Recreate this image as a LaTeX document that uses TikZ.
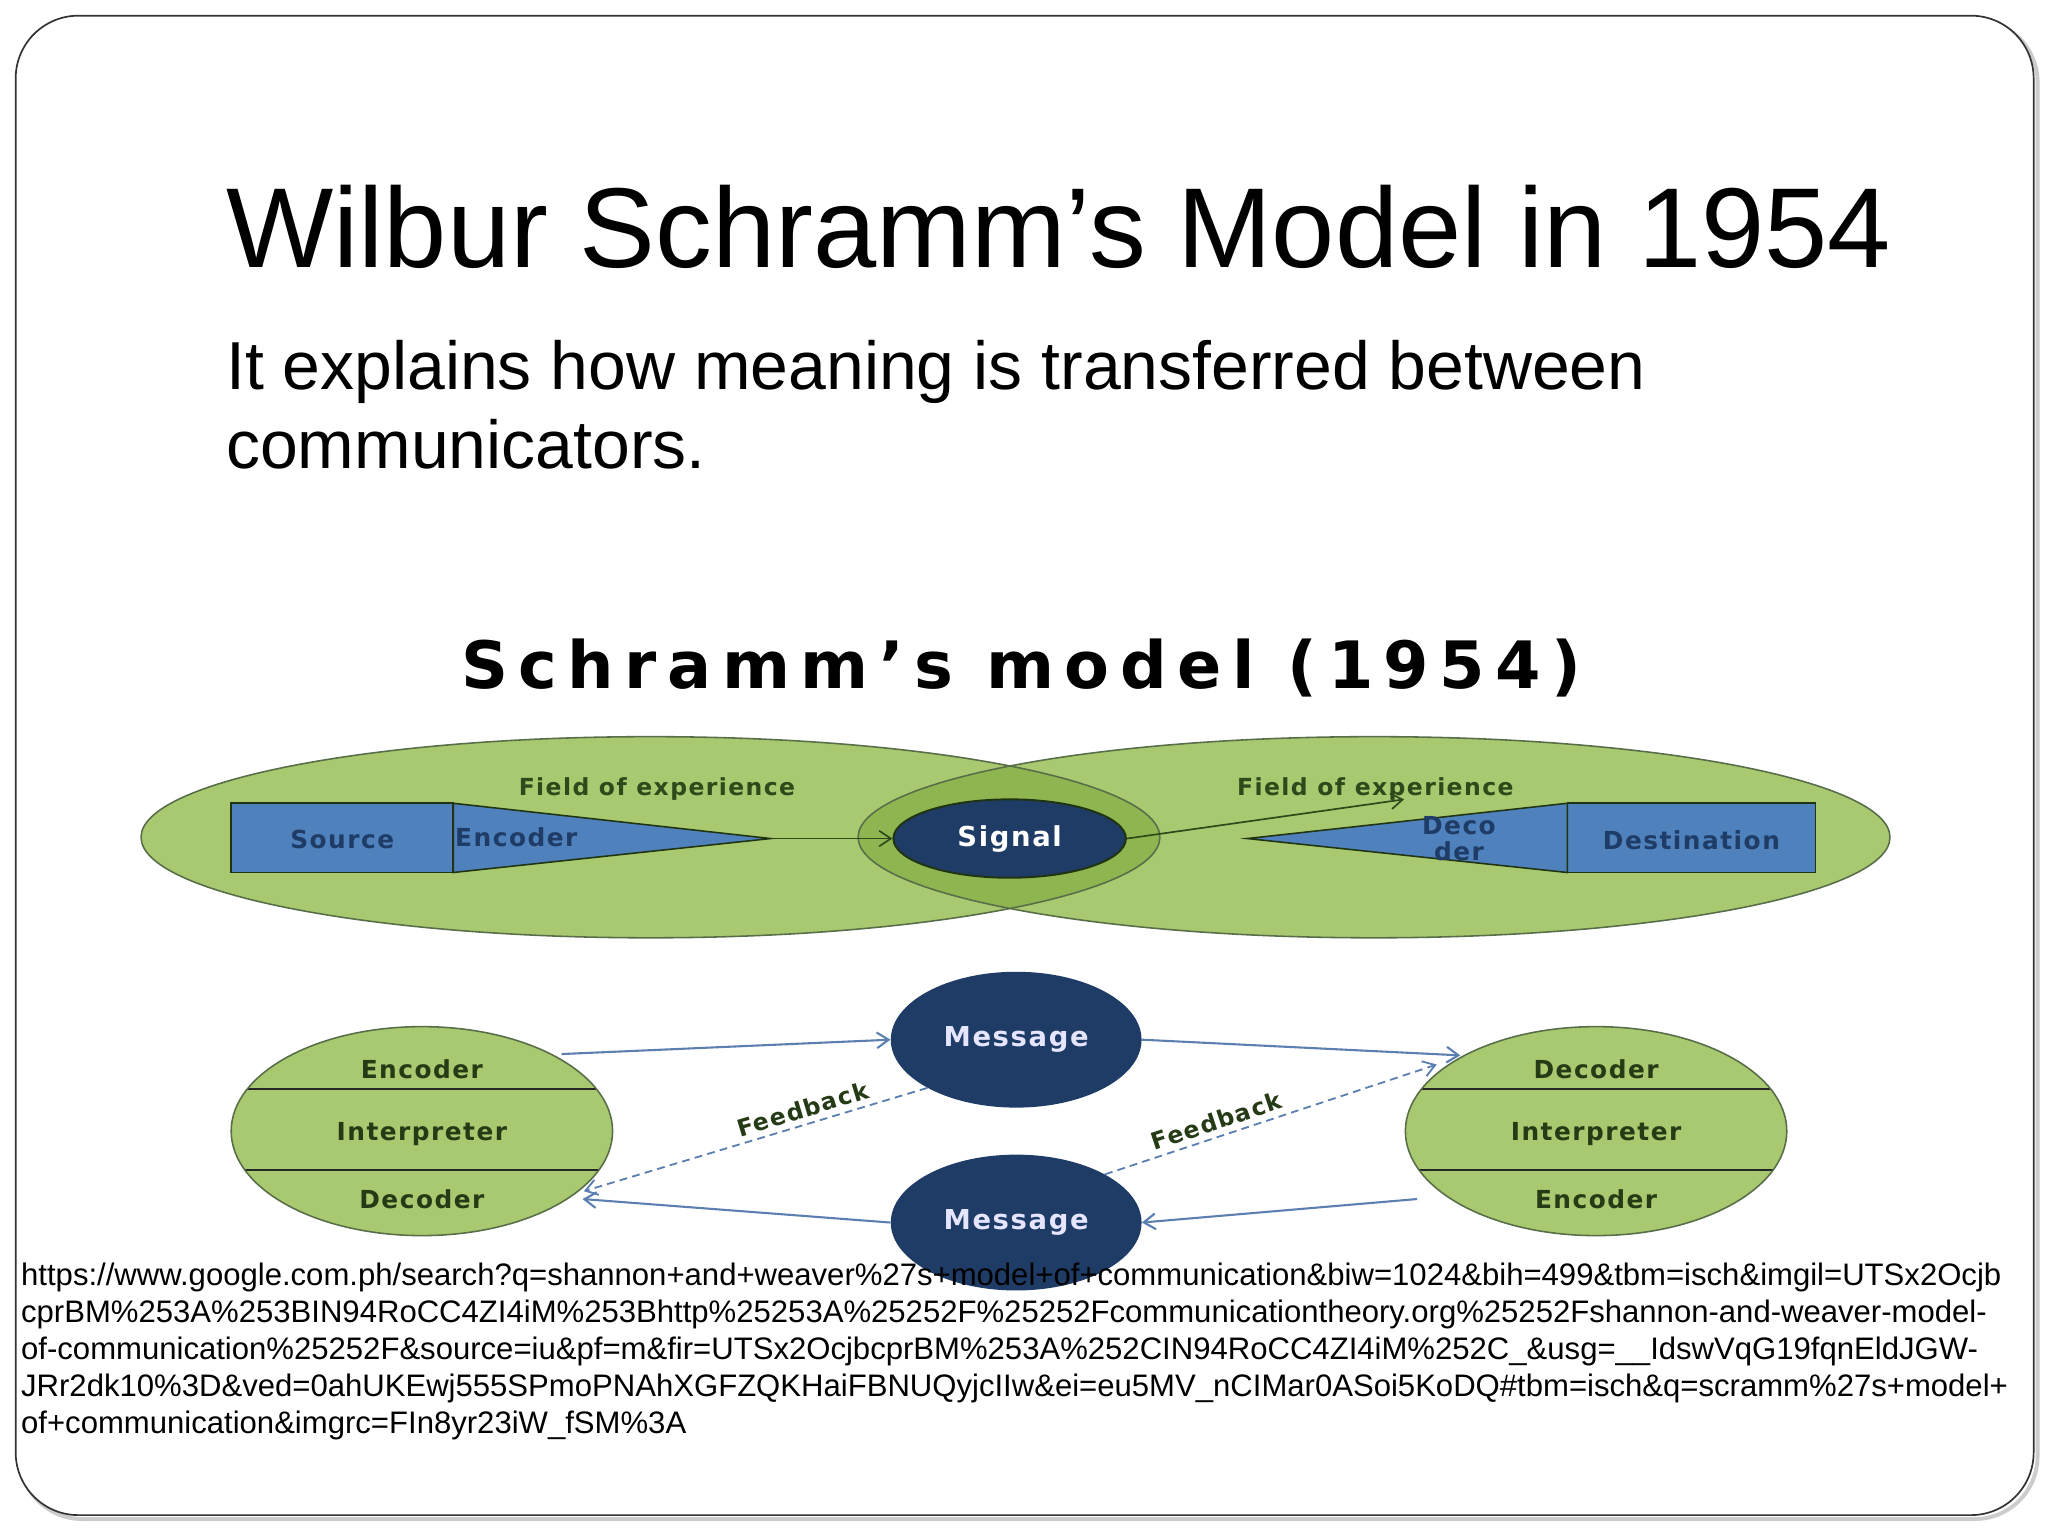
\documentclass[tikz,border=0pt]{standalone}
\usepackage{fontspec}
\setmainfont{Liberation Sans}
\newfontfamily\djfont{DejaVu Sans}
\newfontfamily\djspaced[LetterSpace=16]{DejaVu Sans}
\newfontfamily\djlab[LetterSpace=6]{DejaVu Sans}
\usetikzlibrary{arrows.meta,shapes.geometric}
\definecolor{fgreen}{HTML}{A9C970}
\definecolor{lgreen}{HTML}{8FB550}
\definecolor{dgreen}{HTML}{2F4A1A}
\definecolor{bbox}{HTML}{4F81BD}
\definecolor{navy}{HTML}{1F3C66}
\definecolor{steel}{HTML}{5B7FB0}
\tikzset{
  lab/.style={font=\djlab\fontsize{19}{21}\selectfont\bfseries, text=dgreen!80!black},
  fieldlab/.style={font=\djlab\fontsize{18}{20}\selectfont\bfseries, text=dgreen},
  msg/.style={ellipse, fill=navy, minimum width=192pt, minimum height=104pt, inner sep=0pt, text=white!90!blue, font=\djlab\fontsize{21}{23}\selectfont\bfseries},
  garrow/.style={draw=dgreen, line width=1.3pt, -{Straight Barb[length=9pt,width=12pt]}},
  barrow/.style={draw=steel, line width=1.6pt, -{Straight Barb[length=9pt,width=12pt]}},
  fb/.style={draw=steel, line width=1.4pt, dashed, dash pattern=on 6pt off 4pt, -{Straight Barb[length=9pt,width=12pt]}},
  bluebox/.style={fill=bbox, draw=dgreen!70!black, line width=1.2pt}
}
\begin{document}
\begin{tikzpicture}[x=1pt,y=-1pt]
\useasboundingbox (0,0) rectangle (1568,1176);
\fill[white] (0,0) rectangle (1568,1176);
% frame
\draw[line width=3pt, gray!40, rounded corners=48pt] (15,15) rectangle (1560,1163);
\draw[line width=1.3pt, black!80, rounded corners=48pt, fill=white] (12,12) rectangle (1557,1160);
% titles
\node[anchor=base west, inner sep=0pt, font=\fontsize{87}{90}\selectfont] (title) at (173,205) {Wilbur Schramm’s Model in 1954};
\node[anchor=north west, inner sep=0pt, font=\fontsize{52}{61}\selectfont, align=left] (sub) at (173,260) {It explains how meaning is transferred between\\communicators.};
\node[anchor=base, inner sep=0pt, font=\djspaced\fontsize{50}{54}\selectfont\bfseries] (mtitle) at (782,527) {Schramm’s model (1954)};
% ellipses
\fill[fgreen] (498,641) ellipse[x radius=390pt, y radius=77pt];
\fill[fgreen] (1052,641) ellipse[x radius=395pt, y radius=77pt];
\begin{scope}
\clip (498,641) ellipse[x radius=390pt, y radius=77pt];
\fill[lgreen] (1052,641) ellipse[x radius=395pt, y radius=77pt];
\end{scope}
\draw[dgreen!80, line width=1.2pt] (498,641) ellipse[x radius=390pt, y radius=77pt];
\draw[dgreen!80, line width=1.2pt] (1052,641) ellipse[x radius=395pt, y radius=77pt];
\node[fieldlab] (f1) at (503,604) {Field of experience};
\node[fieldlab] (f2) at (1053,604) {Field of experience};
% source / encoder
\draw[bluebox] (177,615) rectangle (347,668);
\node[lab, text=navy] (src) at (262,643) {Source};
\draw[bluebox] (347,615) -- (590,642) -- (347,668) -- cycle;
\node[lab, text=navy, anchor=west] (enc) at (345,641) {Encoder};
\coordinate (enctip) at (590,642);
% destination / decoder
\draw[bluebox] (1200,615) rectangle (1390,668);
\node[lab, text=navy] (dst) at (1295,643) {Destination};
\draw[bluebox] (1200,615) -- (955,642) -- (1200,668) -- cycle;
\node[lab, text=navy, align=center, font=\djlab\fontsize{19}{20}\selectfont\bfseries] (dec) at (1117,642) {Deco\\der};
% signal
\node[ellipse, fill=navy, draw=dgreen!70!black, line width=1.5pt, minimum width=178pt, minimum height=60pt, text=white, font=\djlab\fontsize{21}{23}\selectfont\bfseries] (sig) at (773,642) {Signal};
\draw[garrow] (enctip) -- (sig.west);
\coordinate (fe) at (1075,612);
\draw[garrow] (sig.east) -- (fe);
% bottom part
\foreach \cx/\a/\b/\c/\nm in {323/Encoder/Interpreter/Decoder/L,1222/Decoder/Interpreter/Encoder/R}{
  \fill[fgreen] (\cx,866) ellipse[x radius=146pt, y radius=80pt];
  \begin{scope}
  \clip (\cx,866) ellipse[x radius=146pt, y radius=80pt];
  \draw[black!85, line width=1.3pt] (\cx-150,834) -- (\cx+150,834);
  \draw[black!85, line width=1.3pt] (\cx-150,896) -- (\cx+150,896);
  \end{scope}
  \draw[dgreen!80, line width=1.2pt] (\cx,866) ellipse[x radius=146pt, y radius=80pt];
  \node[lab] (\nm a) at (\cx,819) {\a};
  \node[lab] (\nm b) at (\cx,868) {\b};
  \node[lab] (\nm c) at (\cx,918) {\c};
}
\coordinate (Lout) at (430,807);
\coordinate (Lin) at (446,918);
\coordinate (Lfb) at (447,912);
\coordinate (Rin) at (1118,808);
\coordinate (Rout) at (1085,918);
\coordinate (Rfb) at (1100,815);
\node[msg] (m1) at (778,796) {Message};
\node[msg] (m2) at (778,936) {Message};
\draw[barrow] (Lout) -- (m1.west);
\draw[barrow] (m1.east) -- (Rin);
\draw[barrow] (Rout) -- (m2.east);
\draw[barrow] (m2.west) -- (Lin);
\draw[fb] (m1.south west) -- (Lfb) node[pos=0.35, sloped, above=1pt, lab, font=\djlab\fontsize{18}{20}\selectfont\bfseries] (fb1) {Feedback};
\draw[fb] (m2.north east) -- (Rfb) node[pos=0.35, sloped, above=1pt, lab, font=\djlab\fontsize{18}{20}\selectfont\bfseries] (fb2) {Feedback};
% URL
\node[anchor=north west, inner sep=0pt, align=left, font=\fontsize{23.8}{28.3}\selectfont] (url) at (16,967) {https://www.google.com.ph/search?q=shannon+and+weaver\%27s+model+of+communication\&biw=1024\&bih=499\&tbm=isch\&imgil=UTSx2Ocjb\\
cprBM\%253A\%253BIN94RoCC4ZI4iM\%253Bhttp\%25253A\%25252F\%25252Fcommunicationtheory.org\%25252Fshannon-and-weaver-model-\\
of-communication\%25252F\&source=iu\&pf=m\&fir=UTSx2OcjbcprBM\%253A\%252CIN94RoCC4ZI4iM\%252C\_\&usg=\_\_IdswVqG19fqnEldJGW-\\
JRr2dk10\%3D\&ved=0ahUKEwj555SPmoPNAhXGFZQKHaiFBNUQyjcIIw\&ei=eu5MV\_nCIMar0ASoi5KoDQ\#tbm=isch\&q=scramm\%27s+model+\\
of+communication\&imgrc=FIn8yr23iW\_fSM\%3A};
\end{tikzpicture}
\end{document}
